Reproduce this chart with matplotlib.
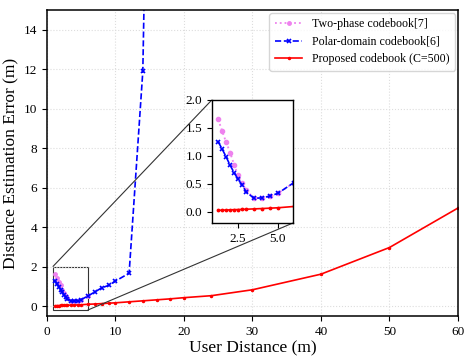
import matplotlib
matplotlib.use("Agg")
import matplotlib.pyplot as plt
from mpl_toolkits.axes_grid1.inset_locator import mark_inset

plt.rcParams["font.family"] = ["Liberation Serif", "DejaVu Serif"]

# user distance grid (m)
near_x = [1.25, 1.5, 1.75, 2.0, 2.25, 2.5, 2.75, 3.0, 3.5, 4.0, 4.5, 5.0, 6.0]
polar_x = near_x + [7, 8, 9, 10, 12, 14, 16]
proposed_x = near_x + [7, 8, 9, 10, 12, 14, 16, 18, 20, 24, 30, 40, 50, 60]

two_phase_err = [1.65, 1.44, 1.24, 1.06, 0.84, 0.65, 0.52, 0.39,
                 0.24, 0.25, 0.28, 0.33, 0.52]
polar_err = [1.25, 1.12, 0.98, 0.83, 0.70, 0.58, 0.48, 0.36,
             0.24, 0.25, 0.28, 0.33, 0.52,
             0.72, 0.93, 1.05, 1.27, 1.67, 11.9, 50.0]
proposed_err = [0.025, 0.03, 0.032, 0.035, 0.038, 0.04, 0.043, 0.046,
                0.052, 0.058, 0.065, 0.072, 0.095,
                0.11, 0.13, 0.15, 0.17, 0.22, 0.27, 0.32, 0.37, 0.43,
                0.53, 0.83, 1.62, 2.97, 4.97]

labels = ["Two-phase codebook[7]", "Polar-domain codebook[6]",
          "Proposed codebook (C=500)"]


def draw(ax, inset=False):
    ms = 3.5 if inset else 3
    ax.plot(near_x, two_phase_err, color="violet", linestyle=":",
            marker="o", markersize=ms - 0.5, linewidth=1.3, label=labels[0])
    ax.plot(polar_x, polar_err, color="blue", linestyle="--",
            marker="x", markersize=ms, markeredgewidth=1.2, linewidth=1.2,
            label=labels[1])
    ax.plot(proposed_x, proposed_err, color="red", linestyle="-",
            marker=".", markersize=ms, linewidth=1.2, label=labels[2])


fig = plt.figure(figsize=(4.74, 3.62), dpi=100)
ax = fig.add_axes([0.099, 0.127, 0.867, 0.845])
draw(ax)
ax.set_xlim(0, 60)
ax.set_ylim(-0.5, 15)
ax.set_xticks([0, 10, 20, 30, 40, 50, 60])
ax.set_yticks([0, 2, 4, 6, 8, 10, 12, 14])
ax.grid(True, color="#dddddd", linestyle=":", linewidth=0.8)
ax.tick_params(labelsize=9.5)
ax.set_xlabel("User Distance (m)", fontsize=12.5, labelpad=2)
ax.set_ylabel("Distance Estimation Error (m)", fontsize=12.5, labelpad=3)
for sp in ax.spines.values():
    sp.set_linewidth(1.1)
leg = ax.legend(loc="upper right", fontsize=8.6, frameon=True,
                handlelength=2.3, borderpad=0.45, labelspacing=0.45,
                borderaxespad=0.25)
leg.get_frame().set_edgecolor("#cccccc")

axins = fig.add_axes([0.447, 0.384, 0.171, 0.340])
draw(axins, inset=True)
axins.set_xlim(0.85, 5.95)
axins.set_ylim(-0.2, 2.0)
axins.set_xticks([2.5, 5.0])
axins.set_yticks([0.0, 0.5, 1.0, 1.5, 2.0])
axins.tick_params(labelsize=9.5)
for sp in axins.spines.values():
    sp.set_linewidth(1.0)
mark_inset(ax, axins, loc1=2, loc2=4, fc="none", ec="0.2", lw=0.8)

fig.savefig("out.png", dpi=100)
